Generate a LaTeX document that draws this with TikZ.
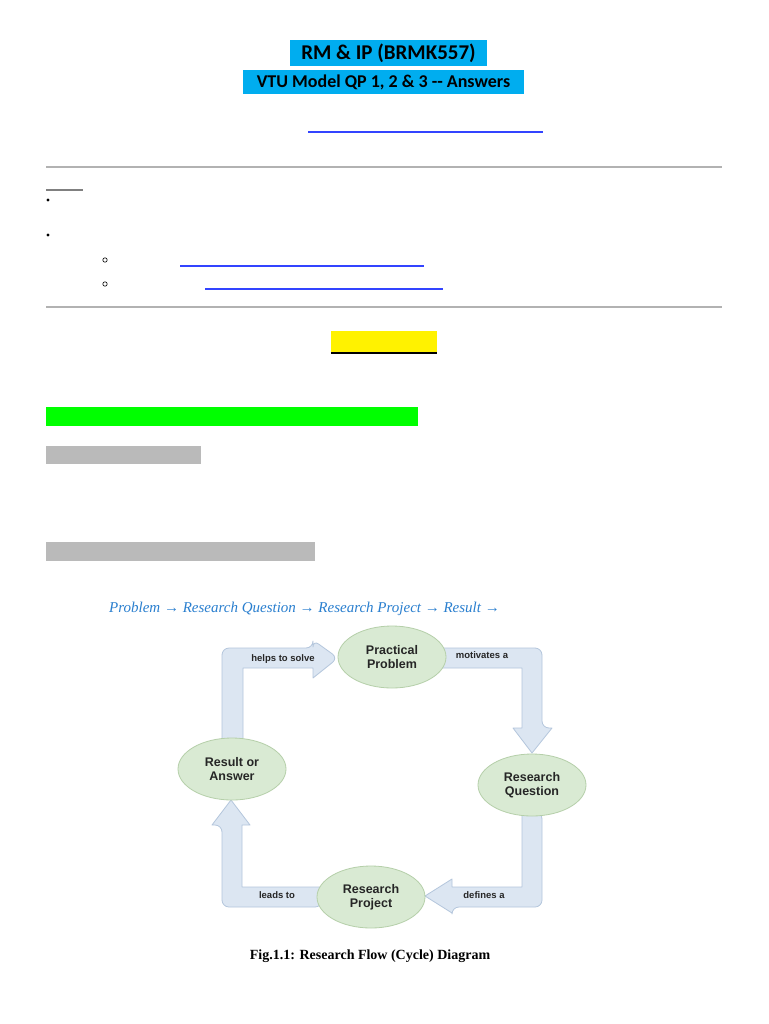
\documentclass[tikz,border=0pt]{standalone}
\usepackage{fontspec}
\setmainfont{Liberation Serif}
\newfontfamily\calib{Carlito}
\newfontfamily\arial{Liberation Sans}
\usetikzlibrary{shapes.geometric}
\definecolor{bandfill}{HTML}{DCE6F2}
\definecolor{bandline}{HTML}{B4C6DC}
\definecolor{ellfill}{HTML}{D9EAD3}
\definecolor{ellline}{HTML}{B5CFA9}
\definecolor{linkblue}{HTML}{3344FF}
\definecolor{flowblue}{HTML}{2A7FCF}
\tikzset{
  band/.style={fill=bandfill,draw=bandline,line width=0.8pt,rounded corners=7pt,line join=round},
  ell/.style={ellipse,fill=ellfill,draw=ellline,line width=0.8pt,minimum width=108pt,minimum height=62pt,inner sep=0pt,align=center,font=\arial\bfseries\fontsize{12.5}{14}\selectfont,text=black!85},
  lab/.style={font=\arial\bfseries\fontsize{9.5}{11}\selectfont,text=black!85,inner sep=0pt},
  hl/.style={inner sep=0pt},
  rule/.style={draw=black!30,line width=2pt},
  ulink/.style={draw=linkblue,line width=1.2pt}
}
\begin{document}
\begin{tikzpicture}[x=1pt,y=-1pt]
\useasboundingbox[fill=white] (0,0) rectangle (768,1024);
% title
\fill[cyan] (290,40) rectangle (487,66);
\fill[cyan] (243,70) rectangle (524,94);
\node[hl,font=\calib\bfseries\fontsize{21}{24}\selectfont] (t1) at (388.5,53) {RM \& IP (BRMK557)};
\node[hl,font=\calib\bfseries\fontsize{18}{22}\selectfont] (t2) at (383.5,82) {VTU Model QP 1, 2 \& 3 -- Answers};
\draw[ulink] (308,132) -- (543,132);
\draw[rule] (46,167) -- (722,167);
\draw[draw=black!50,line width=1.2pt] (46,190) -- (83,190);
\fill (48,200) circle (1.7);
\fill (48,235) circle (1.7);
\draw[line width=0.6pt] (105,260) circle (2.2);
\draw[line width=0.6pt] (105,284) circle (2.2);
\draw[ulink] (180,266) -- (424,266);
\draw[ulink] (205,289) -- (443,289);
\draw[rule] (46,307) -- (722,307);
\fill[yellow] (331,331) rectangle (437,353);
\draw[line width=1.5pt] (331,353) -- (437,353);
\fill[green] (46,407) rectangle (418,426);
\fill[black!27] (46,446) rectangle (201,464);
\fill[black!27] (46,542) rectangle (315,561);
\node[hl,anchor=west,text=flowblue,font=\itshape\fontsize{15}{17}\selectfont] (flow) at (109,609) {Problem → Research Question → Research Project → Result →};
% bands
\draw[band] (222,739) -- (222,648) -- (313,648) -- (313,640) -- (338,658) [sharp corners] -- (313,678) -- (313,668) -- (243,668) -- (243,739) -- cycle;
\draw[band] (440,648) -- (542,648) -- (542,728) [sharp corners] -- (552,728) -- (532,753) -- (513,728) -- (522,728) -- (522,668) -- (440,668) -- cycle;
\draw[band] (522,812) -- (542,812) -- (542,907) -- (452,907) [sharp corners] -- (452,913) -- (425,896) -- (452,879) -- (452,887) -- (522,887) -- cycle;
\draw[band] (322,887) -- (322,907) -- (222,907) -- (222,825) [sharp corners] -- (212,825) -- (231,800) -- (250,825) -- (242,825) -- (242,887) -- cycle;
% ellipses
\node[ell] (pp) at (392,657) {Practical\\Problem};
\node[ell] (rq) at (532,785) {Research\\Question};
\node[ell] (rp) at (371,897) {Research\\Project};
\node[ell] (ra) at (232,769) {Result or\\Answer};
\node[lab] (l1) at (283,659) {helps to solve};
\node[lab] (l2) at (482,655) {motivates a};
\node[lab] (l3) at (484,895) {defines a};
\node[lab] (l4) at (277,895) {leads to};
\node[hl,font=\bfseries\fontsize{14}{16}\selectfont] (cap) at (370,956) {Fig.1.1: Research Flow (Cycle) Diagram};
\end{tikzpicture}
\end{document}
